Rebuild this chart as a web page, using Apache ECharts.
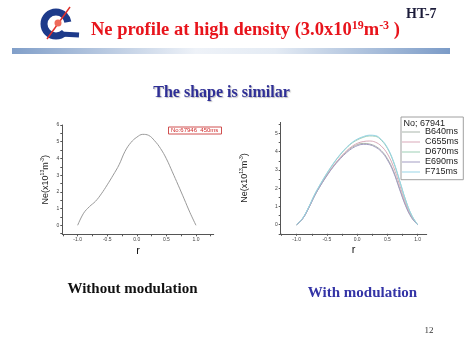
<!DOCTYPE html>
<html><head><meta charset="utf-8">
<script src="https://cdn.jsdelivr.net/npm/echarts@6/dist/echarts.min.js"></script>
<style>html,body{margin:0;padding:0;background:#fff}#c{width:474px;height:355px}</style>
</head><body><div id="c"></div>
<script>
// radius positions (r)
const rValues = [-1.0, -0.9, -0.8, -0.7, -0.6, -0.5, -0.4, -0.3, -0.2, -0.1, 0.0, 0.1, 0.2, 0.3, 0.4, 0.5, 0.6, 0.7, 0.8, 0.9, 1.0];
// Without modulation: No:67946 450ms
const ne450 = [0, 0.72, 1.12, 1.43, 1.88, 2.42, 3.0, 3.62, 4.42, 4.95, 5.27, 5.44, 5.38, 5.06, 4.6, 3.98, 3.2, 2.4, 1.58, 0.75, 0];
// With modulation: No; 67941
const seriesNames = ['B640ms', 'C655ms', 'D670ms', 'E690ms', 'F715ms'];
const neB640 = [0, 0.33, 0.92, 1.6, 2.18, 2.7, 3.17, 3.57, 3.92, 4.2, 4.38, 4.45, 4.42, 4.3, 4.05, 3.62, 2.95, 2.0, 1.08, 0.4, 0];
const neC655 = [0, 0.34, 0.93, 1.62, 2.2, 2.72, 3.19, 3.6, 3.96, 4.25, 4.45, 4.55, 4.58, 4.52, 4.3, 3.88, 3.18, 2.2, 1.2, 0.46, 0];
const neD670 = [0, 0.35, 0.96, 1.66, 2.25, 2.8, 3.3, 3.74, 4.12, 4.43, 4.64, 4.78, 4.86, 4.84, 4.62, 4.18, 3.44, 2.42, 1.35, 0.52, 0];
const neE690 = [0, 0.33, 0.92, 1.6, 2.17, 2.68, 3.14, 3.53, 3.87, 4.14, 4.32, 4.4, 4.38, 4.25, 4.0, 3.55, 2.88, 1.95, 1.04, 0.38, 0];
const neF715 = [0, 0.36, 0.97, 1.67, 2.27, 2.82, 3.32, 3.77, 4.15, 4.46, 4.68, 4.82, 4.9, 4.88, 4.66, 4.22, 3.48, 2.45, 1.37, 0.53, 0];
// tick labels
const xTickLabels = [-1.0, -0.5, 0.0, 0.5, 1.0];
const xTicksLeft = [-1.25, -1.0, -0.75, -0.5, -0.25, 0, 0.25, 0.5, 0.75, 1.0, 1.25];
const xTicksRight = [-1.25, -1.0, -0.75, -0.5, -0.25, 0, 0.25, 0.5, 0.75, 1.0];
const yTickLabelsLeft = [0, 1, 2, 3, 4, 5, 6];
const yTicksLeft = [-0.5, 0, 0.5, 1, 1.5, 2, 2.5, 3, 3.5, 4, 4.5, 5, 5.5, 6];
const yTickLabelsRight = [0, 1, 2, 3, 4, 5];
const yTicksRight = [-0.5, 0, 0.5, 1, 1.5, 2, 2.5, 3, 3.5, 4, 4.5, 5, 5.5];

const rightData = [neB640, neC655, neD670, neE690, neF715];
const rightColors = ['#a9b4aa', '#d9a9b8', '#9ccfb4', '#a39cc2', '#98d4e6'];

const SANS = 'Liberation Sans';
const SERIF = 'Liberation Serif';
const axisColor = '#555';

function xAxisCfg(grid, min, max, ticks) {
  return {
    type: 'value', gridIndex: grid, min: min, max: max,
    name: 'r', nameLocation: 'middle', nameGap: 11,
    nameTextStyle: {fontFamily: SANS, fontSize: 11, color: '#111'},
    axisLine: {show: true, onZero: false, lineStyle: {color: axisColor, width: 1}},
    axisTick: {show: true, length: 2, inside: false, customValues: ticks, lineStyle: {color: axisColor}},
    axisLabel: {customValues: xTickLabels, fontSize: 5, color: '#444', fontFamily: SANS, margin: 3,
      formatter: v => Number(v).toFixed(1)},
    splitLine: {show: false}
  };
}
function yAxisCfg(grid, min, max, labels, ticks, gap) {
  return {
    type: 'value', gridIndex: grid, min: min, max: max,
    name: '{a|Ne(x10}{s|13}{a|m}{s|-3}{a|)}', nameLocation: 'middle', nameGap: gap, nameRotate: 90,
    nameTextStyle: {rich: {
      a: {fontFamily: SANS, fontSize: 9, color: '#222', lineHeight: 11},
      s: {fontFamily: SANS, fontSize: 5, color: '#222', verticalAlign: 'top', lineHeight: 11}
    }},
    axisLine: {show: true, onZero: false, lineStyle: {color: axisColor, width: 1}},
    axisTick: {show: true, length: 2, inside: false, customValues: ticks, lineStyle: {color: axisColor}},
    axisLabel: {customValues: labels, fontSize: 5, color: '#444', fontFamily: SANS, margin: 3},
    splitLine: {show: false}
  };
}

const series = [{
  name: 'No:67946 450ms', type: 'line', xAxisIndex: 0, yAxisIndex: 0, smooth: 0.4, showSymbol: false,
  lineStyle: {color: '#9a9a9a', width: 1}, itemStyle: {color: '#9a9a9a'},
  data: rValues.map((r, i) => [r, ne450[i]])
}];
seriesNames.forEach((n, k) => {
  series.push({
    name: n, type: 'line', xAxisIndex: 1, yAxisIndex: 1, smooth: 0.4, showSymbol: false,
    lineStyle: {color: rightColors[k], width: 1}, itemStyle: {color: rightColors[k]},
    data: rValues.map((r, i) => [r, rightData[k][i]])
  });
});

const chart = echarts.init(document.getElementById('c'), null, {renderer: 'canvas'});
chart.setOption({
  animation: false,
  backgroundColor: '#fff',
  grid: [
    {left: 62.3, top: 125, width: 151.4, height: 109.3},
    {left: 280.7, top: 122.4, width: 146, height: 111.4}
  ],
  xAxis: [xAxisCfg(0, -1.26, 1.3, xTicksLeft), xAxisCfg(1, -1.264, 1.15, xTicksRight)],
  yAxis: [yAxisCfg(0, -0.54, 6, yTickLabelsLeft, yTicksLeft, 11), yAxisCfg(1, -0.5, 5.6, yTickLabelsRight, yTicksRight, 31)],
  title: [{
    text: 'No:67946  450ms', left: 168, top: 126.5, padding: [1, 3],
    borderColor: '#d05050', borderWidth: 1,
    textStyle: {fontSize: 6, color: '#d02828', fontWeight: 'normal', fontFamily: SANS}
  }],
  legend: {
    data: seriesNames, orient: 'vertical', left: 402, top: 127, padding: 0,
    icon: 'rect', itemWidth: 18, itemHeight: 1, itemGap: 0,
    textStyle: {fontFamily: SANS, fontSize: 9, color: '#222', lineHeight: 10}
  },
  graphic: [
    // header band
    {type: 'rect', shape: {x: 12, y: 48, width: 438, height: 6}, z: 0,
      style: {fill: new echarts.graphic.LinearGradient(0, 0, 1, 0, [
        {offset: 0, color: '#819fc9'}, {offset: 0.42, color: '#eef2f8'},
        {offset: 0.6, color: '#e4ebf4'}, {offset: 1, color: '#7b9bc7'}])}},
    // logo
    {type: 'arc', shape: {cx: 56, cy: 24, r: 12, startAngle: 0.25 * Math.PI, endAngle: 1.95 * Math.PI},
      style: {stroke: '#1d3a8a', lineWidth: 7, fill: null}},
    {type: 'line', shape: {x1: 60, y1: 34, x2: 79, y2: 35}, style: {stroke: '#1d3a8a', lineWidth: 5}},
    {type: 'line', shape: {x1: 47, y1: 39, x2: 70, y2: 7}, style: {stroke: '#e0302a', lineWidth: 1.5}},
    {type: 'circle', shape: {cx: 58, cy: 23, r: 3.5}, style: {fill: '#ee6a5a'}},
    // title texts
    {type: 'text', x: 91, y: 20, style: {
      text: '{a|Ne profile at high density (3.0x10}{s|19}{a|m}{s|-3}{a| )}',
      rich: {
        a: {fontFamily: SERIF, fontSize: 18.5, fontWeight: 'bold', fill: '#e8141c', lineHeight: 21},
        s: {fontFamily: SERIF, fontSize: 12, fontWeight: 'bold', fill: '#e8141c', verticalAlign: 'top', lineHeight: 21}
      }}},
    {type: 'text', x: 406, y: 7, style: {text: 'HT-7', fontFamily: SERIF, fontSize: 14, fontWeight: 'bold', fill: '#1c1c3a'}},
    {type: 'text', x: 221.5, y: 93, style: {text: 'The shape is similar', fontFamily: SERIF, fontSize: 16, fontWeight: 'bold',
      fill: '#2f2f96', align: 'center', verticalAlign: 'middle', textShadowColor: 'rgba(0,0,0,0.25)', textShadowOffsetX: 1, textShadowOffsetY: 1, textShadowBlur: 1}},
    {type: 'text', x: 132.5, y: 289, style: {text: 'Without modulation', fontFamily: SERIF, fontSize: 15, fontWeight: 'bold',
      fill: '#111', align: 'center', verticalAlign: 'middle'}},
    {type: 'text', x: 362.5, y: 293, style: {text: 'With modulation', fontFamily: SERIF, fontSize: 15, fontWeight: 'bold',
      fill: '#3434a6', align: 'center', verticalAlign: 'middle'}},
    {type: 'text', x: 429, y: 331, style: {text: '12', fontFamily: SERIF, fontSize: 9, fill: '#333', align: 'center', verticalAlign: 'middle'}},
    // legend box with header
    {type: 'rect', shape: {x: 401, y: 117, width: 62.3, height: 62.7}, z: -1,
      style: {fill: '#fff', stroke: '#a0a0a0', lineWidth: 1}},
    {type: 'text', x: 403.5, y: 123.5, style: {text: 'No; 67941', fontFamily: SANS, fontSize: 9, fill: '#222', verticalAlign: 'middle'}}
  ],
  series: series
});
</script></body></html>
